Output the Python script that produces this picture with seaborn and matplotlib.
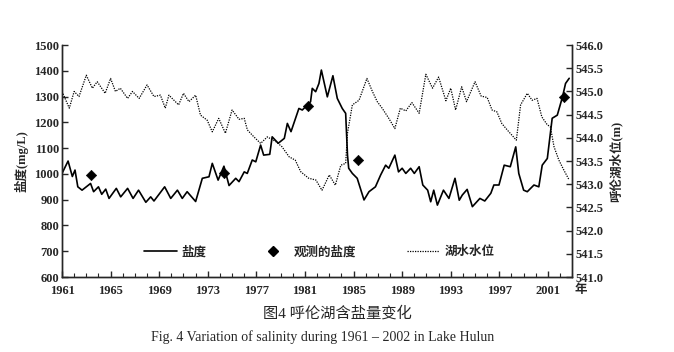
import matplotlib
matplotlib.use("Agg")
import matplotlib.pyplot as plt
import seaborn as sns
import pandas as pd
from matplotlib.lines import Line2D
from matplotlib.ticker import MultipleLocator, FormatStrFormatter

# Salinity curve (mg/L)
sal_year = [1961.0, 1961.5, 1961.85, 1962.07, 1962.3, 1962.65, 1963.35, 1963.6, 1964.0, 1964.27,
            1964.6, 1964.87, 1965.47, 1965.83, 1966.4, 1966.85, 1967.3, 1967.9, 1968.3, 1968.57,
            1969.45, 1969.95, 1970.5, 1970.9, 1971.3, 1972.0, 1972.55, 1973.1, 1973.37, 1973.85,
            1974.33, 1974.75, 1975.3, 1975.57, 1976.0, 1976.25, 1976.66, 1976.95, 1977.35, 1977.6,
            1978.1, 1978.3, 1978.8, 1979.3, 1979.55, 1979.85, 1980.5, 1980.78, 1981.46, 1981.6,
            1981.88, 1982.15, 1982.35, 1982.84, 1983.3, 1983.66, 1984.07, 1984.35, 1984.5, 1984.6,
            1984.9, 1985.3, 1985.86, 1986.27, 1986.8, 1987.23, 1987.64, 1987.9, 1988.4, 1988.7,
            1989.0, 1989.3, 1989.7, 1990.0, 1990.4, 1990.7, 1991.1, 1991.35, 1991.6, 1991.9,
            1992.4, 1992.85, 1993.35, 1993.7, 1993.95, 1994.35, 1994.78, 1995.4, 1995.8, 1996.3,
            1996.55, 1996.97, 1997.4, 1997.9, 1998.35, 1998.6, 1999.0, 1999.3, 1999.85, 2000.25,
            2000.53, 2000.95, 2001.35, 2001.77, 2002.2, 2002.45, 2002.75]
sal_value = [1002, 1050, 990, 1015, 950, 937, 963, 931, 950, 921,
             941, 905, 944, 911, 944, 905, 937, 890, 911, 895,
             950, 905, 937, 905, 931, 893, 983, 989, 1041, 976,
             1030, 955, 983, 970, 1008, 1002, 1054, 1047, 1112, 1073,
             1076, 1144, 1119, 1138, 1196, 1164, 1254, 1248, 1280, 1332,
             1319, 1351, 1403, 1299, 1381, 1293, 1254, 1235, 1073, 1022,
             1002, 983, 899, 931, 950, 996, 1034, 1022, 1073, 1008,
             1022, 1002, 1022, 1002, 1028, 957, 937, 892, 937, 879,
             937, 905, 983, 898, 918, 940, 873, 905, 895, 925,
             957, 957, 1034, 1028, 1105, 1002, 937, 931, 957, 950,
             1034, 1060, 1216, 1228, 1299, 1351, 1371]

# Lake level (m)
lev_year = [1961.0, 1961.6, 1962.0, 1962.4, 1963.0, 1963.5, 1963.9, 1964.55, 1965.0, 1965.4,
            1965.8, 1966.4, 1966.8, 1967.35, 1968.0, 1968.57, 1969.1, 1969.5, 1969.8, 1970.6,
            1971.0, 1971.45, 1972.0, 1972.4, 1972.95, 1973.37, 1973.9, 1974.45, 1975.0, 1975.57,
            1976.0, 1976.26, 1976.8, 1977.35, 1977.9, 1978.6, 1979.1, 1979.7, 1980.2, 1980.65,
            1981.3, 1981.9, 1982.4, 1983.0, 1983.5, 1983.95, 1984.35, 1984.5, 1984.9, 1985.45,
            1986.1, 1986.55, 1986.95, 1987.35, 1987.9, 1988.4, 1988.85, 1989.3, 1989.8, 1990.4,
            1990.95, 1991.5, 1992.0, 1992.6, 1993.0, 1993.4, 1993.9, 1994.3, 1995.0, 1995.5,
            1996.0, 1996.4, 1996.8, 1997.2, 1997.65, 1998.4, 1998.75, 1999.3, 1999.7, 2000.1,
            2000.5, 2000.95, 2001.2, 2001.5, 2001.9, 2002.3, 2002.75]
lev_value = [545.0, 544.64, 545.0, 544.89, 545.35, 545.07, 545.21, 544.96, 545.28, 545.0,
             545.07, 544.85, 545.0, 544.85, 545.14, 544.89, 544.92, 544.64, 544.92, 544.71,
             544.96, 544.78, 544.92, 544.49, 544.38, 544.13, 544.42, 544.10, 544.6, 544.4,
             544.42, 544.17, 544.02, 543.88, 544.02, 543.92, 543.81, 543.59, 543.52, 543.27,
             543.13, 543.09, 542.87, 543.2, 542.98, 543.41, 543.45, 544.1, 544.71, 544.81,
             545.28, 545.0, 544.78, 544.64, 544.42, 544.2, 544.64, 544.58, 544.76, 544.53,
             545.37, 545.07, 545.31, 544.8, 545.07, 544.6, 545.1, 544.78, 545.21, 544.9,
             544.87, 544.6, 544.56, 544.31, 544.17, 543.95, 544.71, 544.96, 544.81, 544.85,
             544.45, 544.28, 544.24, 543.81, 543.52, 543.31, 543.09]

# Observed salinity
obs_year = [1963.4, 1974.3, 1981.25, 1985.4, 2002.3]
obs_value = [995, 1003, 1265, 1055, 1300]

x_ticks = [1961, 1965, 1969, 1973, 1977, 1981, 1985, 1989, 1993, 1997, 2001]

df_sal = pd.DataFrame({"year": sal_year, "salinity": sal_value})
df_lev = pd.DataFrame({"year": lev_year, "level": lev_value})
df_obs = pd.DataFrame({"year": obs_year, "salinity": obs_value})

sns.set_style("ticks")
plt.rcParams["font.family"] = ["Liberation Serif", "Noto Sans CJK SC"]
plt.rcParams["axes.linewidth"] = 1.0

fig = plt.figure(figsize=(6.74, 3.52), dpi=100)
ax = fig.add_axes([0.092, 0.213, 0.757, 0.659])
ax2 = ax.twinx()

sns.lineplot(data=df_sal, x="year", y="salinity", ax=ax, color="black", linewidth=1.2)
sns.scatterplot(data=df_obs, x="year", y="salinity", ax=ax, color="black", marker="D",
                s=28, edgecolor="black", zorder=5)
sns.lineplot(data=df_lev, x="year", y="level", ax=ax2, color="black", linewidth=0.9,
             linestyle=(0, (1, 1)))

ax.set_xlim(1961, 2003)
ax.set_ylim(600, 1500)
ax2.set_ylim(541, 546)
ax.set_xticks(x_ticks)
ax.xaxis.set_minor_locator(MultipleLocator(1))
ax.yaxis.set_major_locator(MultipleLocator(100))
ax2.yaxis.set_major_locator(MultipleLocator(0.5))
ax2.yaxis.set_major_formatter(FormatStrFormatter("%.1f"))

for a in (ax, ax2):
    a.spines["top"].set_visible(False)
    a.tick_params(direction="in", length=4, width=1, labelsize=9, pad=2)
    a.tick_params(which="minor", direction="in", length=3, width=0.8)
    for lab in a.get_xticklabels() + a.get_yticklabels():
        lab.set_fontweight("bold")
ax.tick_params(axis="x", pad=5.5)

ax.set_xlabel("")
ax.set_ylabel("盐度(mg/L)", fontsize=9, fontweight="bold", labelpad=4)
ax2.set_ylabel("呼伦湖水位(m)", fontsize=9, fontweight="bold", labelpad=4)
# "年" sits just right of the last year label
ax.text(1.004, -0.032, "年", transform=ax.transAxes, fontsize=9, fontweight="bold",
        ha="left", va="top")

handles = [
    Line2D([], [], color="black", linewidth=1.2),
    Line2D([], [], color="black", marker="D", linestyle="none", markersize=5),
    Line2D([], [], color="black", linewidth=0.9, linestyle=(0, (1, 1))),
]
ax.legend(handles, ["盐度", "观测的盐度", "湖水水位"], loc="center", bbox_to_anchor=(0.504, 0.108),
          ncol=3, frameon=False, handlelength=2.6, handletextpad=0.4, columnspacing=4.0,
          prop={"weight": "bold", "size": 9})

fig.text(0.5, 1 - 313 / 352, "图4 呼伦湖含盐量变化", ha="center", va="center", fontsize=11)
fig.text(0.478, 1 - 337 / 352, "Fig. 4 Variation of salinity during 1961 – 2002 in Lake Hulun",
         ha="center", va="center", fontsize=10)

fig.savefig("out.png", dpi=100, facecolor="white")
